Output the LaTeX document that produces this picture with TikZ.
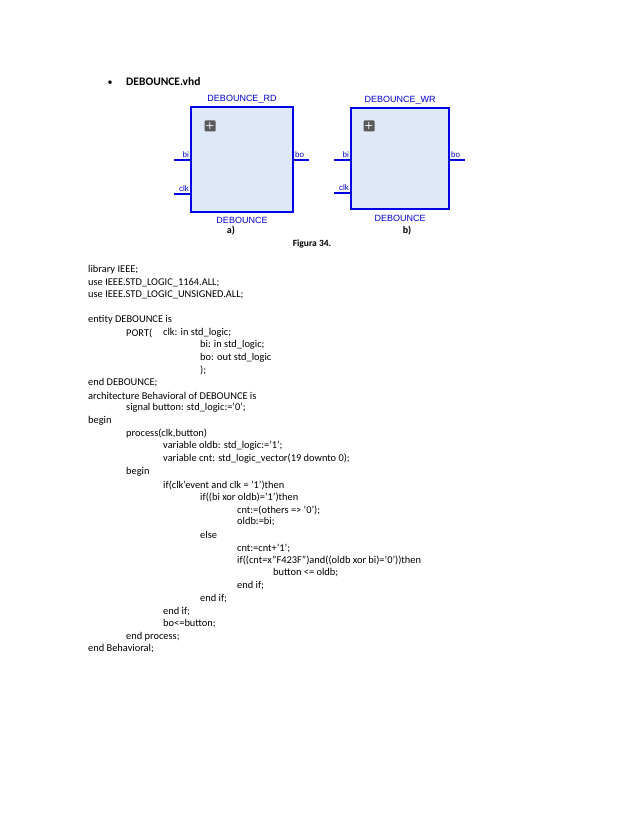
\documentclass[tikz,border=0pt]{standalone}
\usepackage{fontspec}
\setmainfont{Carlito}
\newfontfamily\arialf{Liberation Sans}
\definecolor{bfill}{RGB}{222,232,248}
\begin{document}
\begin{tikzpicture}[x=1pt,y=-1pt,
 blk/.style={draw=blue!90!black,line width=1.3pt,fill=bfill},
 pin/.style={draw=blue!90!black,line width=1.2pt},
 pl/.style={font=\arialf\fontsize{8}{9}\selectfont,text=blue!80!black,inner sep=0},
 tl/.style={font=\arialf\fontsize{9}{10}\selectfont,text=blue!80!black,inner sep=0},
 code/.style={anchor=west,inner sep=0,font=\fontsize{10.4}{12}\selectfont}]
\useasboundingbox (0,0) rectangle (638,826);
\node[anchor=west,inner sep=0,font=\bfseries\fontsize{11.5}{13}\selectfont] (h) at (126,82) {DEBOUNCE.vhd};
\node[inner sep=0] (bul) at (110,83) {\textbullet};
% block a
\draw[blk] (191,107) rectangle (293,212);
\node[fill=gray!70!black,rounded corners=1pt,minimum size=11pt,inner sep=0,text=white,font=\bfseries\sffamily] (pa) at (210,126) {+};
\coordinate (a1) at (174,160); \coordinate (a2) at (191,160);
\coordinate (a3) at (174,194); \coordinate (a4) at (191,194);
\coordinate (a5) at (293,160); \coordinate (a6) at (309,160);
\draw[pin] (a1)--(a2); \draw[pin] (a3)--(a4); \draw[pin] (a5)--(a6);
\node[pl,anchor=south east] (abi) at (189,157.5) {bi};
\node[pl,anchor=south east] (aclk) at (189,191.5) {clk};
\node[pl,anchor=south west] (abo) at (295,157.5) {bo};
\node[tl] (ta) at (242,99) {DEBOUNCE\_RD};
\node[tl] (ba) at (242,220) {DEBOUNCE};
\node[font=\bfseries\fontsize{10}{12}\selectfont,inner sep=0] (la) at (231,231) {a)};
% block b
\draw[blk] (351,108) rectangle (449,209);
\node[fill=gray!70!black,rounded corners=1pt,minimum size=11pt,inner sep=0,text=white,font=\bfseries\sffamily] (pb) at (369,126) {+};
\coordinate (b1) at (334,160); \coordinate (b2) at (351,160);
\coordinate (b3) at (334,193); \coordinate (b4) at (351,193);
\coordinate (b5) at (449,160); \coordinate (b6) at (465,160);
\draw[pin] (b1)--(b2); \draw[pin] (b3)--(b4); \draw[pin] (b5)--(b6);
\node[pl,anchor=south east] (bbi) at (349,157.5) {bi};
\node[pl,anchor=south east] (bclk) at (349,190.5) {clk};
\node[pl,anchor=south west] (bbo) at (451,157.5) {bo};
\node[tl] (tb) at (400,100) {DEBOUNCE\_WR};
\node[tl] (bb) at (400,218) {DEBOUNCE};
\node[font=\bfseries\fontsize{10}{12}\selectfont,inner sep=0] (lb) at (407,231) {b)};
\node[font=\bfseries\fontsize{9.5}{11}\selectfont,inner sep=0] (fig) at (312,244) {Figura 34.};
% code
\node[code] (c1) at (88,270) {library IEEE;};
\node[code] (c2) at (88,283) {use IEEE.STD\_LOGIC\_1164.ALL;};
\node[code] (c3) at (88,295) {use IEEE.STD\_LOGIC\_UNSIGNED.ALL;};
\node[code] (c4) at (88,320) {entity DEBOUNCE is};
\node[code] (c5) at (126,333) {PORT(};
\node[code] (c5b) at (163,333) {clk: in std\_logic;};
\node[code] (c6) at (200,345) {bi: in std\_logic;};
\node[code] (c7) at (200,358) {bo: out std\_logic};
\node[code] (c8) at (200,370) {);};
\node[code] (c9) at (88,383) {end DEBOUNCE;};
\node[code] (c10) at (88,396) {architecture Behavioral of DEBOUNCE is};
\node[code] (c11) at (126,408) {signal button: std\_logic:='0';};
\node[code] (c12) at (88,421) {begin};
\node[code] (c13) at (126,434) {process(clk,button)};
\node[code] (c14) at (163,446) {variable oldb: std\_logic:='1';};
\node[code] (c15) at (163,459) {variable cnt: std\_logic\_vector(19 downto 0);};
\node[code] (c16) at (126,472) {begin};
\node[code] (c17) at (163,485) {if(clk'event and clk = '1')then};
\node[code] (c18) at (200,497) {if((bi xor oldb)='1')then};
\node[code] (c19) at (237,510) {cnt:=(others => '0');};
\node[code] (c20) at (237,522) {oldb:=bi;};
\node[code] (c21) at (200,535) {else};
\node[code] (c22) at (237,548) {cnt:=cnt+'1';};
\node[code] (c23) at (237,560) {if((cnt=x"F423F")and((oldb xor bi)='0'))then};
\node[code] (c24) at (273,573) {button <= oldb;};
\node[code] (c25) at (237,586) {end if;};
\node[code] (c26) at (200,599) {end if;};
\node[code] (c27) at (163,612) {end if;};
\node[code] (c28) at (163,624) {bo<=button;};
\node[code] (c29) at (126,637) {end process;};
\node[code] (c30) at (88,649) {end Behavioral;};
\end{tikzpicture}
\end{document}
